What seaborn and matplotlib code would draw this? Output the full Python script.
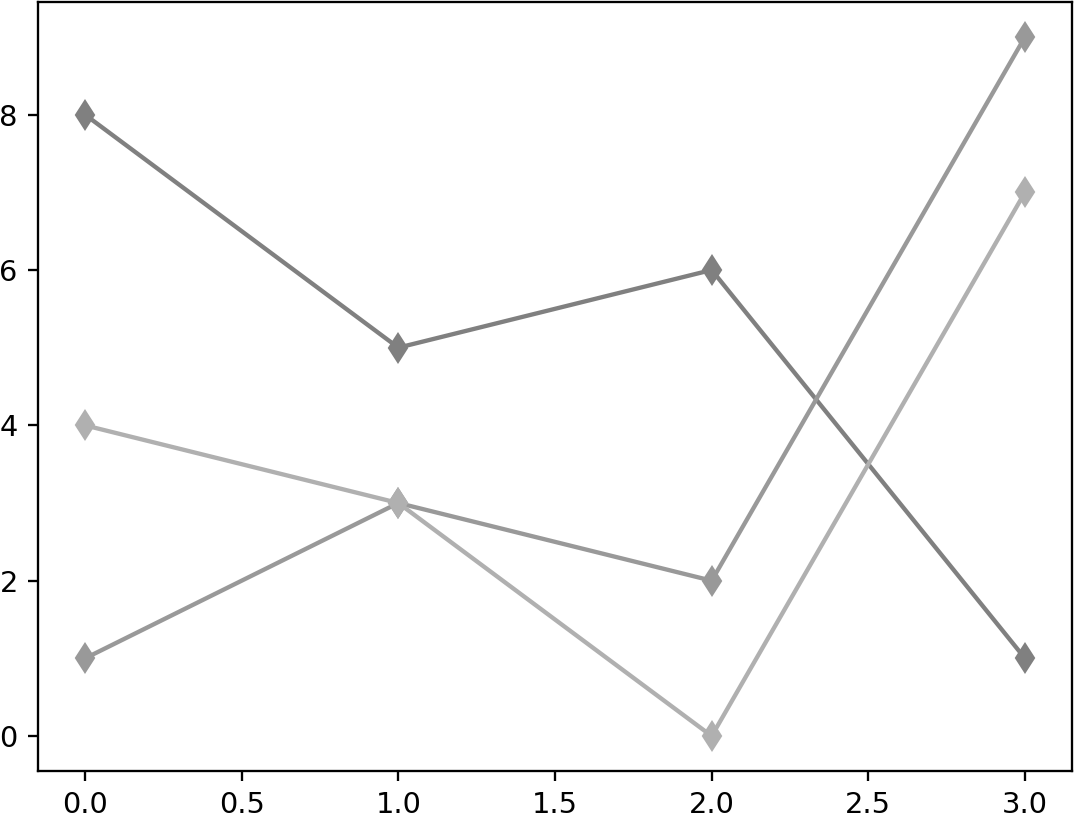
import pandas as pd
import numpy as np
import matplotlib
matplotlib.use("Agg")
import matplotlib.pyplot as plt
import seaborn as sns

# valores
x_vals = [0, 1, 2, 3]
serie_a = [8, 5, 6, 1]
serie_b = [1, 3, 2, 9]
serie_c = [4, 3, 0, 7]
nombres = ["a", "b", "c"]
colores = ["#808080", "#999999", "#b0b0b0"]

df = pd.DataFrame({
    "x": x_vals * 3,
    "y": serie_a + serie_b + serie_c,
    "serie": [n for n in nombres for _ in x_vals],
})

dpi = 208
fig = plt.figure(figsize=(1074 / dpi, 816 / dpi), dpi=dpi)
ax = fig.add_axes([38 / 1074, 45 / 816, 1034 / 1074, 769 / 816])

sns.lineplot(data=df, x="x", y="y", hue="serie", style="serie",
             palette=colores, markers=["d", "d", "d"], dashes=False,
             markeredgecolor=None, linewidth=1.5, markersize=7,
             legend=False, ax=ax)

ax.set_xlabel("")
ax.set_ylabel("")
ax.set_xticks([0.0, 0.5, 1.0, 1.5, 2.0, 2.5, 3.0])

fig.savefig("out.png", dpi=dpi)
